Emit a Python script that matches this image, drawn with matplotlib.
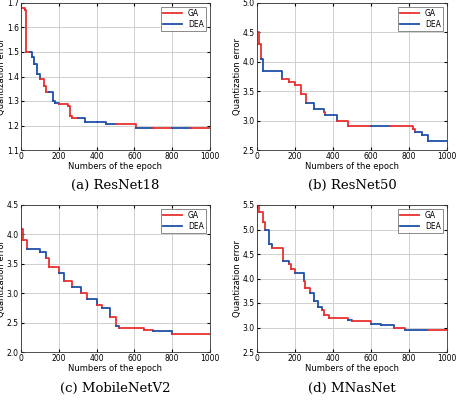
import matplotlib
matplotlib.use("Agg")
import matplotlib.pyplot as plt

RED = "#e8302f"; BLUE = "#1f4fa8"

# epochs, values, owner (G=GA, D=DEA) of each step segment
r18_x = [0, 20, 25, 50, 60, 70, 85, 100, 120, 130, 150, 170, 180, 200, 250, 260, 270, 300, 340, 400, 450, 500, 610, 700, 800, 900, 1000]
r18_y = [1.68, 1.67, 1.50, 1.50, 1.48, 1.45, 1.41, 1.39, 1.36, 1.335, 1.335, 1.30, 1.29, 1.287, 1.28, 1.24, 1.23, 1.23, 1.215, 1.213, 1.208, 1.208, 1.19, 1.19, 1.19, 1.19, 1.19]
r18_o = "GGGDDDDGGGDDDGGGGDDDDGDGDG"

r50_x = [0, 10, 20, 30, 130, 170, 200, 230, 260, 300, 350, 360, 420, 480, 600, 700, 820, 830, 870, 900, 1000]
r50_y = [4.5, 4.3, 4.05, 3.85, 3.7, 3.65, 3.6, 3.45, 3.3, 3.2, 3.15, 3.1, 3.0, 2.9, 2.9, 2.9, 2.85, 2.8, 2.75, 2.65, 2.65]
r50_o = "GGDDGGGGDDGDGGDGGDDD"

mb_x = [0, 10, 30, 100, 130, 150, 200, 230, 270, 320, 350, 400, 430, 470, 500, 520, 650, 700, 800, 1000]
mb_y = [4.1, 3.9, 3.75, 3.7, 3.6, 3.45, 3.35, 3.2, 3.1, 3.0, 2.9, 2.8, 2.75, 2.6, 2.45, 2.4, 2.38, 2.35, 2.3, 2.3]
mb_o = "GGDDGGDGDGDGDGDGGDG"

mn_x = [0, 10, 30, 40, 65, 80, 135, 170, 180, 200, 245, 255, 280, 300, 320, 340, 350, 380, 480, 500, 600, 650, 720, 780, 900, 1000]
mn_y = [5.5, 5.35, 5.15, 4.98, 4.7, 4.62, 4.35, 4.3, 4.2, 4.12, 3.95, 3.8, 3.7, 3.55, 3.42, 3.35, 3.25, 3.2, 3.15, 3.13, 3.08, 3.05, 2.98, 2.95, 2.95, 2.95]
mn_o = "GGGDDGDGGDGGDDDGGGDGDDGDG"

panels = [
    ("(a) ResNet18", r18_x, r18_y, r18_o, (1.1, 1.7), [1.1, 1.2, 1.3, 1.4, 1.5, 1.6, 1.7]),
    ("(b) ResNet50", r50_x, r50_y, r50_o, (2.5, 5), [2.5, 3, 3.5, 4, 4.5, 5]),
    ("(c) MobileNetV2", mb_x, mb_y, mb_o, (2, 4.5), [2, 2.5, 3, 3.5, 4, 4.5]),
    ("(d) MNasNet", mn_x, mn_y, mn_o, (2.5, 5.5), [2.5, 3, 3.5, 4, 4.5, 5, 5.5]),
]

fig = plt.figure(figsize=(4.74, 4.04), dpi=100)
W, H = 474, 404
boxes = [(21, 3, 189, 147), (257, 3, 190, 147), (21, 205, 189, 147), (257, 205, 190, 147)]
caps = [(115, 185), (352, 185), (115, 388), (352, 388)]

for (title, xs, ys, own, ylim, yt), (l, t, w, h), (cx, cy) in zip(panels, boxes, caps):
    ax = fig.add_axes([l / W, 1 - (t + h) / H, w / W, h / H])
    for i in range(len(xs) - 1):
        c = RED if own[i] == "G" else BLUE
        ax.plot([xs[i], xs[i + 1], xs[i + 1]], [ys[i], ys[i], ys[i + 1]], color=c, lw=1.3)
    ax.plot([], [], color=RED, lw=1.3, label="GA")
    ax.plot([], [], color=BLUE, lw=1.3, label="DEA")
    ax.set_xlim(0, 1000); ax.set_ylim(*ylim)
    ax.set_xticks([0, 200, 400, 600, 800, 1000]); ax.set_yticks(yt)
    ax.grid(True, color="#d0d0d0", lw=0.7)
    ax.tick_params(direction="in", labelsize=5.5, length=2, pad=1.5, top=True, right=True)
    for s in ax.spines.values():
        s.set_linewidth(0.6); s.set_color("#333333")
    ax.set_xlabel("Numbers of the epoch", fontsize=6, labelpad=1)
    ax.set_ylabel("Quantization error", fontsize=6, labelpad=0.5)
    ax.legend(loc="upper right", fontsize=5.5, frameon=True, fancybox=False,
              edgecolor="#333333", handlelength=2.5, borderpad=0.3, labelspacing=0.2).get_frame().set_linewidth(0.5)
    fig.text(cx / W, 1 - cy / H, title, ha="center", va="center", fontsize=9.5, family="DejaVu Serif")

fig.savefig("out.png", dpi=100)
